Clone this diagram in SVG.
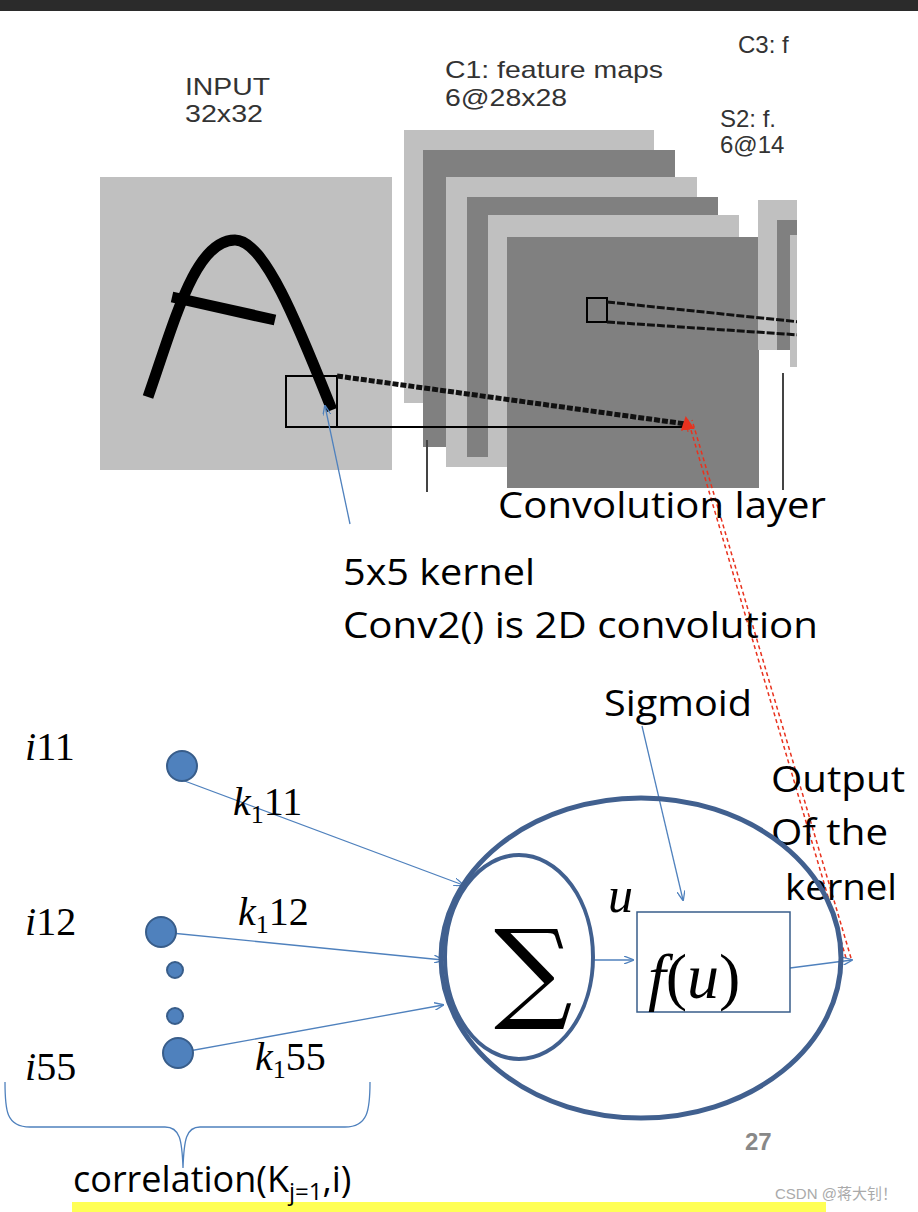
<svg xmlns="http://www.w3.org/2000/svg" width="918" height="1212" viewBox="0 0 918 1212">
<defs>
<marker id="ab" markerWidth="10" markerHeight="8" refX="9" refY="4" orient="auto" markerUnits="userSpaceOnUse"><path d="M0,0 L10,4 L0,8" fill="none" stroke="#4f81bd" stroke-width="1.3"/></marker>
<marker id="ar" markerWidth="14" markerHeight="14" refX="12" refY="7" orient="auto" markerUnits="userSpaceOnUse"><path d="M0,0 L14,7 L0,14 Z" fill="#e8321e"/></marker>
<clipPath id="cl"><rect x="0" y="0" width="797" height="520"/></clipPath>
</defs>
<style>
.lbl{font-family:"Liberation Sans",Arial,sans-serif;font-size:24px;fill:#333}
.cal{font-family:"Open Sans","Liberation Sans",sans-serif;font-size:36px;fill:#000}
.m{font-family:"Liberation Serif","DejaVu Serif",serif;fill:#000}
.light{fill:#c0c0c0}.dark{fill:#808080}
.blue{stroke:#4f81bd;stroke-width:1.3;fill:none}
.node{fill:#4f81bd;stroke:#385d8a;stroke-width:2}
</style>
<rect x="0" y="0" width="918" height="1212" fill="#fff"/>
<rect x="0" y="0" width="918" height="11" fill="#2b2b2b"/>
<g id="lenet" clip-path="url(#cl)">
<rect class="light" x="100" y="177" width="292" height="293"/>
<rect class="light" x="404" y="130" width="250" height="273"/>
<rect class="dark" x="423" y="150" width="252" height="297"/>
<rect class="light" x="446" y="177" width="251" height="290"/>
<rect class="dark" x="467" y="197" width="251" height="260"/>
<rect class="light" x="488" y="215" width="251" height="252"/>
<rect class="dark" x="507" y="237" width="252" height="251"/>
<rect class="light" x="758" y="200" width="40" height="150"/>
<rect class="dark" x="777" y="220" width="20" height="130"/>
<rect class="light" x="790" y="235" width="10" height="132"/>
<line x1="427" y1="440" x2="427" y2="492" stroke="#444" stroke-width="2"/>
<line x1="783" y1="373" x2="783" y2="490" stroke="#444" stroke-width="2"/>
<path d="M148,397 C175,320 195,240 235,240 C265,240 300,330 332,410" fill="none" stroke="#000" stroke-width="11"/>
<line x1="172" y1="297" x2="275" y2="320" stroke="#000" stroke-width="11"/>
<rect x="286" y="376" width="51" height="51" fill="none" stroke="#000" stroke-width="2"/>
<path d="M337,376 L686,424" stroke="#111" stroke-width="5" stroke-dasharray="6,2"/>
<line x1="286" y1="427" x2="686" y2="427" stroke="#000" stroke-width="2"/>
<rect x="587" y="298" width="20" height="24" fill="none" stroke="#000" stroke-width="2"/>
<path d="M607,302 L800,322 M607,322 L800,335" stroke="#111" stroke-width="3" stroke-dasharray="8,2"/>
<text class="lbl" x="185" y="95" textLength="85" lengthAdjust="spacingAndGlyphs">INPUT</text>
<text class="lbl" x="185" y="122" textLength="78" lengthAdjust="spacingAndGlyphs">32x32</text>
<text class="lbl" x="445" y="78" textLength="218" lengthAdjust="spacingAndGlyphs">C1: feature maps</text>
<text class="lbl" x="445" y="106" textLength="122" lengthAdjust="spacingAndGlyphs">6@28x28</text>
<text class="lbl" x="738" y="53">C3: f</text>
<text class="lbl" x="720" y="127">S2: f. </text>
<text class="lbl" x="720" y="153">6@14</text>
</g>
<g id="connectors">
<line class="blue" x1="350" y1="524" x2="325" y2="406" marker-end="url(#ab)"/>
<line x1="846" y1="958" x2="688" y2="420" stroke="#e8321e" stroke-width="1.5" stroke-dasharray="4,3"/>
<line x1="851" y1="958" x2="692" y2="420" stroke="#e8321e" stroke-width="1.5" stroke-dasharray="4,3"/>
<path d="M688,432 L686,418" stroke="#e8321e" stroke-width="1" marker-end="url(#ar)"/>
<line class="blue" x1="182" y1="780" x2="463" y2="885" marker-end="url(#ab)"/>
<line class="blue" x1="161" y1="932" x2="443" y2="960" marker-end="url(#ab)"/>
<line class="blue" x1="178" y1="1053" x2="443" y2="1005" marker-end="url(#ab)"/>
<line class="blue" x1="593" y1="960" x2="633" y2="960" marker-end="url(#ab)"/>
<line class="blue" x1="790" y1="968" x2="852" y2="960" marker-end="url(#ab)"/>
<line class="blue" x1="642" y1="726" x2="683" y2="900" marker-end="url(#ab)"/>
<path class="blue" d="M5,1082 C5,1110 6,1127 30,1127 L165,1127 C180,1127 182,1140 183,1168 C184,1140 186,1127 200,1127 L345,1127 C368,1127 370,1110 370,1082"/>
</g>
<g id="texts">
<text class="cal" x="498" y="518" textLength="328" lengthAdjust="spacingAndGlyphs">Convolution layer</text>
<text class="cal" x="343" y="585" textLength="192" lengthAdjust="spacingAndGlyphs">5x5 kernel</text>
<text class="cal" x="343" y="638" textLength="475" lengthAdjust="spacingAndGlyphs">Conv2() is 2D convolution</text>
<text class="cal" x="604" y="716" textLength="148" lengthAdjust="spacingAndGlyphs">Sigmoid</text>
<text class="cal" x="771" y="792" textLength="134" lengthAdjust="spacingAndGlyphs">Output</text>
<text class="cal" x="771" y="845" textLength="117" lengthAdjust="spacingAndGlyphs">Of the</text>
<text class="cal" x="785" y="900" textLength="112" lengthAdjust="spacingAndGlyphs">kernel</text>
</g>
<g id="inputs">
<text class="m" style="font-size:40px" x="25" y="760"><tspan font-style="italic">i</tspan>11</text>
<text class="m" style="font-size:40px" x="25" y="935"><tspan font-style="italic">i</tspan>12</text>
<text class="m" style="font-size:40px" x="25" y="1080"><tspan font-style="italic">i</tspan>55</text>
<text class="m" style="font-size:40px" x="233" y="815"><tspan font-style="italic">k</tspan><tspan style="font-size:26px" dy="8">1</tspan><tspan dy="-8">11</tspan></text>
<text class="m" style="font-size:40px" x="238" y="925"><tspan font-style="italic">k</tspan><tspan style="font-size:26px" dy="8">1</tspan><tspan dy="-8">12</tspan></text>
<text class="m" style="font-size:40px" x="255" y="1070"><tspan font-style="italic">k</tspan><tspan style="font-size:26px" dy="8">1</tspan><tspan dy="-8">55</tspan></text>
<circle class="node" cx="182" cy="766" r="15"/>
<circle class="node" cx="161" cy="932" r="15"/>
<circle class="node" cx="175" cy="970" r="8"/>
<circle class="node" cx="175" cy="1016" r="8"/>
<circle class="node" cx="178" cy="1053" r="15"/>
</g>
<g id="neuron">
<ellipse cx="641" cy="958" rx="200" ry="160" fill="none" stroke="#41608f" stroke-width="5"/>
<ellipse cx="519" cy="957" rx="74" ry="102" fill="none" stroke="#41608f" stroke-width="4"/>
<text x="494" y="1008" font-family="'DejaVu Serif',serif" font-size="110">∑</text>
<text class="m" style="font-size:50px;font-style:italic" x="608" y="912">u</text>
<rect x="637" y="912" width="153" height="100" fill="none" stroke="#385d8a" stroke-width="1.5"/>
<text class="m" style="font-size:64px" x="648" y="998"><tspan font-style="italic">f</tspan>(<tspan font-style="italic">u</tspan>)</text>
</g>
<g id="footer">
<rect x="72" y="1202" width="754" height="10" fill="#ffff55"/>
<text class="cal" x="73" y="1192">correlation(K<tspan style="font-size:24px" dy="8">j=1</tspan><tspan dy="-8">,i)</tspan></text>
<text x="745" y="1150" font-family="'Liberation Sans',sans-serif" font-weight="bold" font-size="24" fill="#888">27</text>
<text x="775" y="1199" font-family="'Liberation Sans','Noto Sans CJK SC',sans-serif" font-size="15" fill="#aaa">CSDN @蒋大钊！</text>
</g>
</svg>
